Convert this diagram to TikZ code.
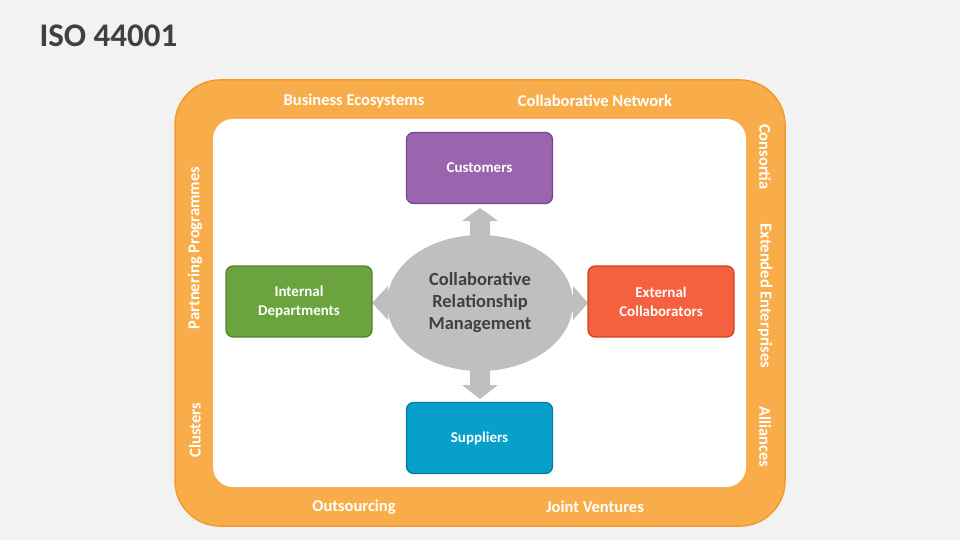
\documentclass[tikz,border=0pt]{standalone}
\usepackage{fontspec}
\setmainfont{Carlito}
\usetikzlibrary{shapes.geometric}
\definecolor{bg}{HTML}{F2F2F2}
\definecolor{org}{HTML}{F9AD4A}
\definecolor{orgd}{HTML}{F39A2D}
\definecolor{gry}{HTML}{BFBFBF}
\definecolor{txt}{HTML}{404040}
\begin{document}
\begin{tikzpicture}[x=1pt,y=-1pt,
 box/.style={rounded corners=7pt,line width=1.2pt,minimum width=146pt,minimum height=71pt,text=white,font=\fontsize{15}{19}\selectfont\bfseries,align=center},
 otx/.style={text=white,font=\fontsize{16.5}{19}\selectfont\bfseries}]
\useasboundingbox (0,0) rectangle (960,540);
\fill[bg] (0,0) rectangle (960,540);
\node[anchor=west,text=txt,font=\fontsize{33}{36}\selectfont\bfseries] (title) at (36,36) {ISO 44001};
\draw[orgd,fill=org,line width=1.5pt,rounded corners=45pt] (175,80) rectangle (785,526);
\fill[white,rounded corners=20pt] (213,119) rectangle (746,487);
\fill[gry] (470,236)--(470,221)--(462,221)--(480,208)--(498,221)--(490,221)--(490,236)--cycle;
\fill[gry] (470,370)--(470,385)--(462,385)--(480,399)--(498,385)--(490,385)--(490,370)--cycle;
\fill[gry] (395,295)--(388,295)--(388,286)--(372,303)--(388,320)--(388,311)--(395,311)--cycle;
\fill[gry] (565,295)--(573,295)--(573,286)--(588,303)--(573,320)--(573,311)--(565,311)--cycle;
\node[ellipse,fill=gry,minimum width=186pt,minimum height=136pt,text=txt,align=center,font=\fontsize{18.5}{22}\selectfont\bfseries] (crm) at (480,303) {Collaborative\\Relationship\\Management};
\node[box,fill={rgb,255:red,155;green,100;blue,174},draw={rgb,255:red,120;green,70;blue,140}] (cus) at (479.5,168) {Customers};
\node[box,fill={rgb,255:red,107;green,164;blue,62},draw={rgb,255:red,80;green,130;blue,45}] (int) at (299,301.5) {Internal\\Departments};
\node[box,fill={rgb,255:red,245;green,96;blue,62},draw={rgb,255:red,210;green,65;blue,35}] (ext) at (661,301.5) {External\\Collaborators};
\node[box,fill={rgb,255:red,7;green,159;blue,204},draw={rgb,255:red,10;green,120;blue,160}] (sup) at (479.5,438) {Suppliers};
\node[otx] (t1) at (354,101) {Business Ecosystems};
\node[otx] (t2) at (595,101) {Collaborative Network};
\node[otx] (t3) at (354,507) {Outsourcing};
\node[otx] (t4) at (595,507) {Joint Ventures};
\node[otx,rotate=90] (t5) at (195,248) {Partnering Programmes};
\node[otx,rotate=90] (t6) at (195,430) {Clusters};
\node[otx,rotate=-90] (t7) at (765,157) {Consortia};
\node[otx,rotate=-90] (t8) at (765,296) {Extended Enterprises};
\node[otx,rotate=-90] (t9) at (765,437) {Alliances};
\end{tikzpicture}
\end{document}
